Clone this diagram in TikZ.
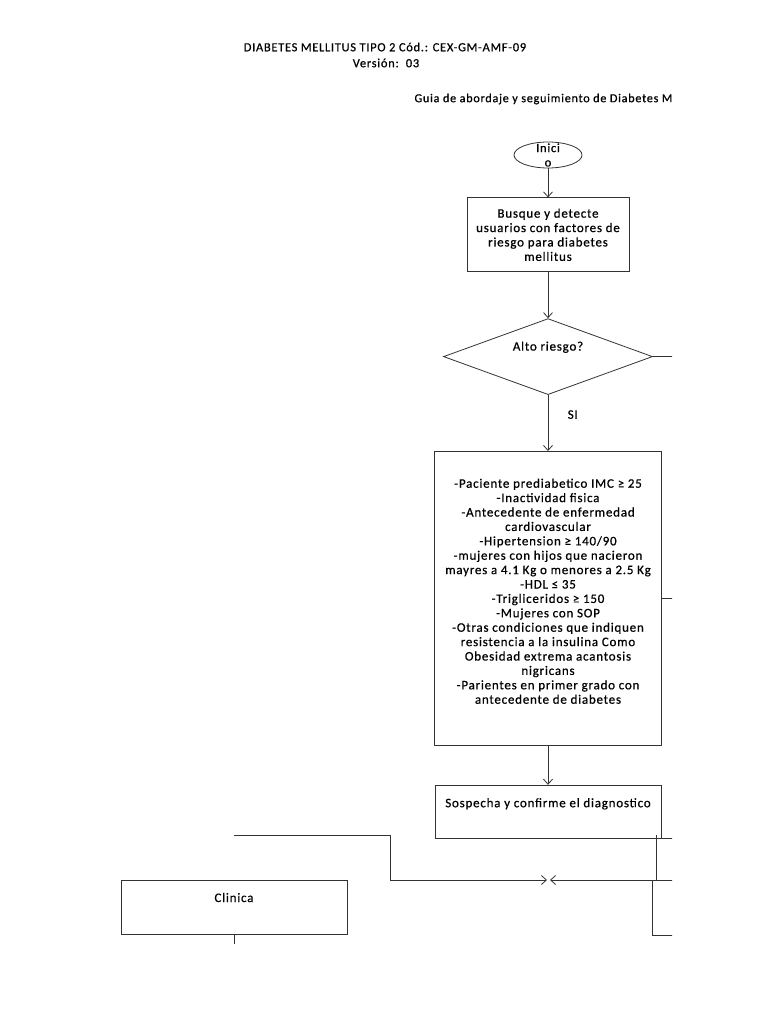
\documentclass[tikz,border=0pt]{standalone}
\usepackage{fontspec}
\setmainfont{Carlito}[LetterSpace=6, FakeBold=0.6]
\usetikzlibrary{shapes.geometric,positioning,arrows.meta}

\begin{document}
\begin{tikzpicture}[x=1pt, y=-1pt,
      every node/.style={font=\fontsize{13}{14.4}\selectfont},
      line/.style={draw=black!80, line width=0.8pt},
      flow/.style={line, -{Straight Barb[length=5pt, width=9pt]}},
      box/.style={line, rectangle, align=center, inner sep=0pt},
      titletext/.style={font=\fontsize{12.4}{14}\selectfont}]
  \useasboundingbox (0,0) rectangle (768,1024);
  \begin{scope}
    \clip (0,0) rectangle (672,1024);
    % encabezado
    \node[titletext] (titulo) at (385,47) {DIABETES MELLITUS TIPO 2 Cód.: CEX-GM-AMF-09};
    \node[titletext] (version) at (386,63) {Versión:\ \ 03};
    \node[anchor=west, font=\fontsize{12.2}{14}\selectfont] (guia) at (411,99)
      {Guia de abordaje y seguimiento de Diabetes Mellitus};

    % flujo principal
    \node[line, ellipse, inner sep=0pt, minimum width=68, minimum height=26,
      label={[align=center, font=\fontsize{12.5}{14.4}\selectfont]center:Inici\\o}] (inicio) at (548,155) {};
    \node[box, minimum width=162, minimum height=74, below=29pt of inicio] (busque)
      {Busque y detecte\\usuarios con factores de\\riesgo para diabetes\\mellitus};
    \node[line, diamond, inner sep=0pt, aspect=2.75, minimum width=209,
      minimum height=76, text height=8, text depth=20, below=46pt of busque] (riesgo) {Alto riesgo?};
    \node[box, minimum width=227, minimum height=294, below=56pt of riesgo] (factores)
      {-Paciente prediabetico IMC ≥ 25\\-Inactividad fisica\\-Antecedente de enfermedad\\cardiovascular\\
       -Hipertension ≥ 140/90\\-mujeres con hijos que nacieron\\mayres a 4.1 Kg o menores a 2.5 Kg\\
       -HDL ≤ 35\\-Trigliceridos ≥ 150\\-Mujeres con SOP\\-Otras condiciones que indiquen\\
       resistencia a la insulina Como\\Obesidad extrema acantosis\\nigricans\\
       -Parientes en primer grado con\\antecedente de diabetes\\~};
    \node[box, minimum width=226, text height=22, text depth=31, below=39pt of factores] (sospecha)
      {Sospecha y confirme el diagnostico};
    \node[box, minimum width=226, text height=22, text depth=32] (clinica) at (234,907) {Clinica};

    \draw[flow] (inicio) -- (busque);
    \draw[flow] (busque) -- (riesgo);
    \draw[flow] (riesgo) -- node[pos=0.35, right=16pt] (si) {SI} (factores);
    \draw[flow] (factores) -- (sospecha);

    % salidas hacia la derecha
    \path (riesgo.east) ++(30,0) coordinate (noR);
    \path (factores.east) ++(30,0) coordinate (factR);
    \path (sospecha.south east) ++(30,0) coordinate (sospR);
    \draw[line] (riesgo.east) -- (noR);
    \draw[line] (factores.east) -- (factR);
    \draw[line] (sospecha.south east) -- (sospR);

    % cruce inferior
    \coordinate (izq) at (234,835);
    \coordinate (codo) at (390,880);
    \coordinate (llegaI) at (547,880);
    \coordinate (derecha) at (680,880);
    \coordinate (llegaD) at (550,880);
    \coordinate (cruceA) at (656,835);
    \coordinate (cruceB) at (656,880);
    \coordinate (bajaA) at (652,880);
    \coordinate (bajaB) at (680,935);
    \coordinate (clinicaSal) at (234,944);
    \draw[flow] (izq) -| (codo) -- (llegaI);
    \draw[flow] (derecha) -- (llegaD);
    \draw[line] (cruceA) -- (cruceB);
    \draw[line] (bajaA) |- (bajaB);
    \draw[line] (clinica) -- (clinicaSal);
  \end{scope}
\end{tikzpicture}
\end{document}
